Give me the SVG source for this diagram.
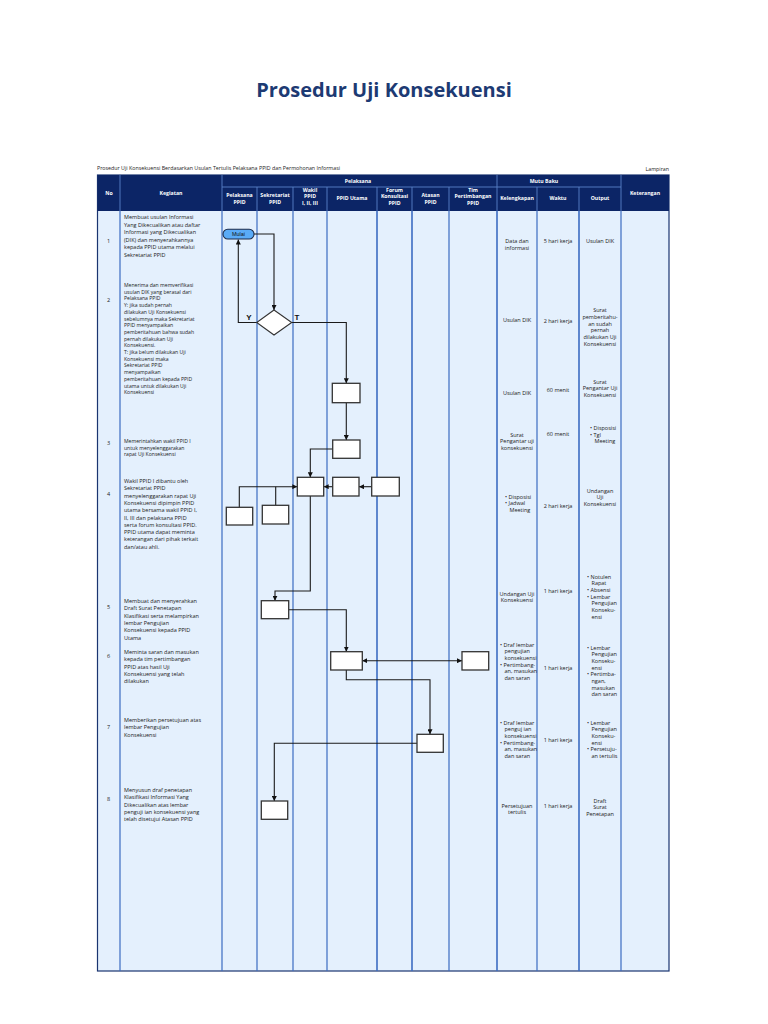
<svg xmlns="http://www.w3.org/2000/svg" width="768" height="1024" viewBox="0 0 768 1024">
<style>
.t{font-family:"Open Sans","Noto Sans",sans-serif;font-size:5.5px;fill:#222}
.c{text-anchor:middle}
.h{font-family:"Open Sans","Noto Sans",sans-serif;font-size:5.2px;fill:#fff;text-anchor:middle;font-weight:bold}
.hl{stroke:#5a82c8;stroke-width:0.9}
.bl{stroke:#3b6cc2;stroke-width:1.2}
.box{fill:#fff;stroke:#333;stroke-width:1.3}
.cn{fill:none;stroke:#1a1a1a;stroke-width:1.1}
.lbl{font-family:"Liberation Sans",Arial,sans-serif;font-size:8px;font-weight:bold;fill:#111}
</style>
<defs>
<marker id="ah" viewBox="0 0 10 10" refX="10" refY="5" markerWidth="5" markerHeight="5" markerUnits="userSpaceOnUse" orient="auto-start-reverse">
<path d="M0,0 L10,5 L0,10 z" fill="#111"/>
</marker>
</defs>
<rect width="768" height="1024" fill="#fff"/>
<text x="384" y="97" text-anchor="middle" font-family="'Open Sans','Noto Sans',sans-serif" font-size="20" font-weight="bold" fill="#1d3a73">Prosedur Uji Konsekuensi</text>
<text class="t" x="97" y="170" style="font-size:5.3px">Prosedur Uji Konsekuensi Berdasarkan Usulan Tertulis Pelaksana PPID dan Permohonan Informasi</text>
<text class="t" x="669" y="171" text-anchor="end" style="font-size:5.3px">Lampiran</text>

<g id="table">
<rect x="97.5" y="175" width="571.5" height="796" fill="#e4f0fd" stroke="#1a3470" stroke-width="1.2"/>
<rect x="97.5" y="175" width="571.5" height="36" fill="#0c2566"/>
<line class="hl" x1="222" y1="187" x2="621" y2="187"/>
<g class="hl">
<line x1="120" y1="175" x2="120" y2="211"/><line x1="222" y1="175" x2="222" y2="211"/>
<line x1="497" y1="175" x2="497" y2="211"/><line x1="621" y1="175" x2="621" y2="211"/>
<line x1="257" y1="187" x2="257" y2="211"/><line x1="293" y1="187" x2="293" y2="211"/>
<line x1="327" y1="187" x2="327" y2="211"/><line x1="377" y1="187" x2="377" y2="211"/>
<line x1="412" y1="187" x2="412" y2="211"/><line x1="449" y1="187" x2="449" y2="211"/>
<line x1="537" y1="187" x2="537" y2="211"/><line x1="579" y1="187" x2="579" y2="211"/>
</g>
<g class="bl">
<line x1="120" y1="211" x2="120" y2="971"/><line x1="222" y1="211" x2="222" y2="971"/>
<line x1="257" y1="211" x2="257" y2="971"/><line x1="293" y1="211" x2="293" y2="971"/>
<line x1="327" y1="211" x2="327" y2="971"/><line x1="377" y1="211" x2="377" y2="971" style="stroke-width:1.6"/>
<line x1="412" y1="211" x2="412" y2="971" style="stroke-width:1.6"/><line x1="449" y1="211" x2="449" y2="971"/>
<line x1="497" y1="211" x2="497" y2="971" style="stroke-width:1.6"/><line x1="537" y1="211" x2="537" y2="971"/>
<line x1="579" y1="211" x2="579" y2="971" style="stroke-width:1.6"/><line x1="621" y1="211" x2="621" y2="971"/>
</g>
<text class="h" x="109" y="195">No</text>
<text class="h" x="171" y="195">Kegiatan</text>
<text class="h" x="358" y="183">Pelaksana</text>
<text class="h" x="544" y="183">Mutu Baku</text>
<text class="h" x="645" y="195">Keterangan</text>
<text class="h" x="239.5" y="197">Pelaksana</text><text class="h" x="239.5" y="204">PPID</text>
<text class="h" x="275" y="197">Sekretariat</text><text class="h" x="275" y="204">PPID</text>
<text class="h" x="310" y="192">Wakil</text><text class="h" x="310" y="198">PPID</text><text class="h" x="310" y="205">I, II, III</text>
<text class="h" x="352" y="200">PPID Utama</text>
<text class="h" x="394.5" y="192">Forum</text><text class="h" x="394.5" y="198">Konsultasi</text><text class="h" x="394.5" y="205">PPID</text>
<text class="h" x="430.5" y="197">Atasan</text><text class="h" x="430.5" y="204">PPID</text>
<text class="h" x="473" y="192">Tim</text><text class="h" x="473" y="198">Pertimbangan</text><text class="h" x="473" y="205">PPID</text>
<text class="h" x="517" y="200">Kelengkapan</text>
<text class="h" x="558" y="200">Waktu</text>
<text class="h" x="600" y="200">Output</text>
</g>

<g id="numbers" class="t c">
<text x="108.5" y="243" class="t c">1</text>
<text x="108.5" y="302" class="t c">2</text>
<text x="108.5" y="445" class="t c">3</text>
<text x="108.5" y="496" class="t c">4</text>
<text x="108.5" y="609" class="t c">5</text>
<text x="108.5" y="658" class="t c">6</text>
<text x="108.5" y="729" class="t c">7</text>
<text x="108.5" y="801" class="t c">8</text>
</g>

<g id="kegiatan">
<text class="t" x="124" y="219">Membuat usulan Informasi</text>
<text class="t" x="124" y="226.5">Yang Dikecualikan atau daftar</text>
<text class="t" x="124" y="234">Informasi yang Dikecualikan</text>
<text class="t" x="124" y="241.5">(DIK) dan menyerahkannya</text>
<text class="t" x="124" y="249">kepada PPID utama melalui</text>
<text class="t" x="124" y="256.5">Sekretariat PPID</text>

<g style="font-size:5.1px">
<text class="t" x="124" y="287" style="font-size:5.1px">Menerima dan memverifikasi</text>
<text class="t" x="124" y="293.7" style="font-size:5.1px">usulan DIK yang berasal dari</text>
<text class="t" x="124" y="300.4" style="font-size:5.1px">Pelaksana PPID</text>
<text class="t" x="124" y="307.1" style="font-size:5.1px">Y: jika sudah pernah</text>
<text class="t" x="124" y="313.8" style="font-size:5.1px">dilakukan Uji Konsekuensi</text>
<text class="t" x="124" y="320.5" style="font-size:5.1px">sebelumnya maka Sekretariat</text>
<text class="t" x="124" y="327.2" style="font-size:5.1px">PPID menyampaikan</text>
<text class="t" x="124" y="333.9" style="font-size:5.1px">pemberitahuan bahwa sudah</text>
<text class="t" x="124" y="340.6" style="font-size:5.1px">pernah dilakukan Uji</text>
<text class="t" x="124" y="347.3" style="font-size:5.1px">Konsekuensi.</text>
<text class="t" x="124" y="354" style="font-size:5.1px">T: jika belum dilakukan Uji</text>
<text class="t" x="124" y="360.7" style="font-size:5.1px">Konsekuensi maka</text>
<text class="t" x="124" y="367.4" style="font-size:5.1px">Sekretariat PPID</text>
<text class="t" x="124" y="374.1" style="font-size:5.1px">menyampaikan</text>
<text class="t" x="124" y="380.8" style="font-size:5.1px">pemberitahuan kepada PPID</text>
<text class="t" x="124" y="387.5" style="font-size:5.1px">utama untuk dilakukan Uji</text>
<text class="t" x="124" y="394.2" style="font-size:5.1px">Konsekuensi</text>
</g>

<text class="t" x="124" y="443" style="font-size:5.1px">Memerintahkan wakil PPID I</text>
<text class="t" x="124" y="449.5" style="font-size:5.1px">untuk menyelenggarakan</text>
<text class="t" x="124" y="456" style="font-size:5.1px">rapat Uji Konsekuensi</text>

<text class="t" x="124" y="483">Wakil PPID I dibantu oleh</text>
<text class="t" x="124" y="490.3">Sekretariat PPID</text>
<text class="t" x="124" y="497.6">menyelenggarakan rapat Uji</text>
<text class="t" x="124" y="504.9">Konsekuensi dipimpin PPID</text>
<text class="t" x="124" y="512.2">utama bersama wakil PPID I,</text>
<text class="t" x="124" y="519.5">II, III dan pelaksana PPID</text>
<text class="t" x="124" y="526.8">serta forum konsultasi PPID.</text>
<text class="t" x="124" y="534.1">PPID utama dapat meminta</text>
<text class="t" x="124" y="541.4">keterangan dari pihak terkait</text>
<text class="t" x="124" y="548.7">dan/atau ahli.</text>

<text class="t" x="124" y="603">Membuat dan menyerahkan</text>
<text class="t" x="124" y="610.3">Draft Surat Penetapan</text>
<text class="t" x="124" y="617.6">Klasifikasi serta melampirkan</text>
<text class="t" x="124" y="624.9">lembar Pengujian</text>
<text class="t" x="124" y="632.2">Konsekuensi kepada PPID</text>
<text class="t" x="124" y="639.5">Utama</text>

<text class="t" x="124" y="654">Meminta saran dan masukan</text>
<text class="t" x="124" y="661.3">kepada tim pertimbangan</text>
<text class="t" x="124" y="668.6">PPID atas hasil Uji</text>
<text class="t" x="124" y="675.9">Konsekuensi yang telah</text>
<text class="t" x="124" y="683.2">dilakukan</text>

<text class="t" x="124" y="722">Memberikan persetujuan atas</text>
<text class="t" x="124" y="729.3">lembar Pengujian</text>
<text class="t" x="124" y="736.6">Konsekuensi</text>

<text class="t" x="124" y="792">Menyusun draf penetapan</text>
<text class="t" x="124" y="799.3">Klasifikasi Informasi Yang</text>
<text class="t" x="124" y="806.6">Dikecualikan atas lembar</text>
<text class="t" x="124" y="813.9">penguji ian konsekuensi yang</text>
<text class="t" x="124" y="821.2">telah disetujui Atasan PPID</text>
</g>

<g id="mutu-baku" style="font-size:5.2px">
<!-- row 1 -->
<text class="t c" x="517" y="243">Data dan</text><text class="t c" x="517" y="250">informasi</text>
<text class="t c" x="558" y="242.5">5 hari kerja</text>
<text class="t c" x="600" y="242.5">Usulan DIK</text>
<!-- row 2 -->
<text class="t c" x="517" y="321.5">Usulan DIK</text>
<text class="t c" x="558" y="322.5">2 hari kerja</text>
<text class="t c" x="600" y="312">Surat</text><text class="t c" x="600" y="318.8">pemberitahu-</text><text class="t c" x="600" y="325.6">an sudah</text><text class="t c" x="600" y="332.4">pernah</text><text class="t c" x="600" y="339.2">dilakukan Uji</text><text class="t c" x="600" y="346">Konsekuensi</text>
<!-- row 2b -->
<text class="t c" x="517" y="394.5">Usulan DIK</text>
<text class="t c" x="558" y="391.5">60 menit</text>
<text class="t c" x="600" y="383.5">Surat</text><text class="t c" x="600" y="390.3">Pengantar Uji</text><text class="t c" x="600" y="397">Konsekuensi</text>
<!-- row 3 -->
<text class="t c" x="517" y="436.5">Surat</text><text class="t c" x="517" y="443.3">Pengantar uji</text><text class="t c" x="517" y="450">konsekuensi</text>
<text class="t c" x="558" y="435.5">60 menit</text>
<text class="t" x="590" y="430">• Disposisi</text><text class="t" x="590" y="436.7">• Tgl</text><text class="t" x="594.5" y="443.4">Meeting</text>
<!-- row 4 -->
<text class="t" x="505" y="498.5">• Disposisi</text><text class="t" x="505" y="505.2">• Jadwal</text><text class="t" x="509.5" y="512">Meeting</text>
<text class="t c" x="558" y="507.5">2 hari kerja</text>
<text class="t c" x="600" y="492.5">Undangan</text><text class="t c" x="600" y="499.3">Uji</text><text class="t c" x="600" y="506">Konsekuensi</text>
<!-- row 5 -->
<text class="t c" x="517" y="595.5">Undangan Uji</text><text class="t c" x="517" y="602.3">Konsekuensi</text>
<text class="t c" x="558" y="592.5">1 hari kerja</text>
<text class="t" x="587" y="578.5">• Notulen</text><text class="t" x="591.5" y="585.2">Rapat</text><text class="t" x="587" y="591.9">• Absensi</text><text class="t" x="587" y="598.6">• Lembar</text><text class="t" x="591.5" y="605.3">Pengujian</text><text class="t" x="591.5" y="612">Konseku-</text><text class="t" x="591.5" y="618.7">ensi</text>
<!-- row 6 -->
<text class="t" x="500" y="646.5">• Draf lembar</text><text class="t" x="504.5" y="653.2">pengujian</text><text class="t" x="504.5" y="659.9">konsekuensi</text><text class="t" x="500" y="666.6">• Pertimbang-</text><text class="t" x="504.5" y="673.3">an, masukan</text><text class="t" x="504.5" y="680">dan saran</text>
<text class="t c" x="558" y="669.5">1 hari kerja</text>
<text class="t" x="587" y="649.5">• Lembar</text><text class="t" x="591.5" y="656.2">Pengujian</text><text class="t" x="591.5" y="662.9">Konseku-</text><text class="t" x="591.5" y="669.6">ensi</text><text class="t" x="587" y="676.3">• Pertimba-</text><text class="t" x="591.5" y="683">ngan,</text><text class="t" x="591.5" y="689.7">masukan</text><text class="t" x="591.5" y="696.4">dan saran</text>
<!-- row 7 -->
<text class="t" x="500" y="724.5">• Draf lembar</text><text class="t" x="504.5" y="731.2">penguj ian</text><text class="t" x="504.5" y="737.9">konsekuensi</text><text class="t" x="500" y="744.6">• Pertimbang-</text><text class="t" x="504.5" y="751.3">an, masukan</text><text class="t" x="504.5" y="758">dan saran</text>
<text class="t c" x="558" y="741.5">1 hari kerja</text>
<text class="t" x="587" y="724.5">• Lembar</text><text class="t" x="591.5" y="731.2">Pengujian</text><text class="t" x="591.5" y="737.9">Konseku-</text><text class="t" x="591.5" y="744.6">ensi</text><text class="t" x="587" y="751.3">• Persetuju-</text><text class="t" x="591.5" y="758">an tertulis</text>
<!-- row 8 -->
<text class="t c" x="517" y="807.5">Persetujuan</text><text class="t c" x="517" y="814.3">tertulis</text>
<text class="t c" x="558" y="807.5">1 hari kerja</text>
<text class="t c" x="600" y="802.5">Draft</text><text class="t c" x="600" y="809.3">Surat</text><text class="t c" x="600" y="816">Penetapan</text>
</g>

<g id="connectors">
<path class="cn" d="M254,234 H274 V310" marker-end="url(#ah)"/>
<path class="cn" d="M256.7,322.5 H238.3 V239.5" marker-end="url(#ah)"/>
<path class="cn" d="M291.7,322.5 H346.3 V383.3" marker-end="url(#ah)"/>
<path class="cn" d="M346.3,402.7 V440" marker-end="url(#ah)"/>
<path class="cn" d="M332.7,449 H310.3 V477.3" marker-end="url(#ah)"/>
<path class="cn" d="M332.7,486.7 H323.7" marker-end="url(#ah)"/>
<path class="cn" d="M371.7,486.7 H359" marker-end="url(#ah)"/>
<path class="cn" d="M239.3,507.3 V486.7 H297.3" marker-end="url(#ah)"/>
<path class="cn" d="M275.7,505.3 V486.7"/>
<path class="cn" d="M310.3,496 V591 H275 V600.7" marker-end="url(#ah)"/>
<path class="cn" d="M288.7,609.7 H346.3 V651.7" marker-end="url(#ah)"/>
<path class="cn" d="M362.3,660.7 H462" marker-start="url(#ah)" marker-end="url(#ah)"/>
<path class="cn" d="M346.3,670 V679.7 H430 V734.3" marker-end="url(#ah)"/>
<path class="cn" d="M417,743.3 H274.3 V801" marker-end="url(#ah)"/>
</g>

<g id="mulai">
<rect x="223" y="229.3" width="31" height="9.7" rx="4.8" fill="#5aabf7" stroke="#1b2a4a" stroke-width="1.1"/>
<text x="238.5" y="236.3" text-anchor="middle" font-family="'Liberation Sans',Arial,sans-serif" font-size="5.5" fill="#111">Mulai</text>
</g>
<g id="decision">
<polygon points="274,310 291.7,322.5 274,335 256.7,322.5" fill="#fff" stroke="#333" stroke-width="1.1"/>
<text class="lbl" x="249" y="320" text-anchor="middle">Y</text>
<text class="lbl" x="297" y="320" text-anchor="middle">T</text>
</g>
<g id="box-a"><rect class="box" x="332.3" y="383.3" width="27.7" height="19.4"/></g>
<g id="box-b"><rect class="box" x="332.7" y="440" width="27.3" height="18.3"/></g>
<g id="box-c"><rect class="box" x="297.3" y="477.3" width="26.4" height="18.7"/></g>
<g id="box-d"><rect class="box" x="332.7" y="477.3" width="26.3" height="18.7"/></g>
<g id="box-e"><rect class="box" x="371.7" y="477.3" width="27.6" height="18.7"/></g>
<g id="box-f"><rect class="box" x="226.3" y="507.3" width="26.4" height="17.7"/></g>
<g id="box-g"><rect class="box" x="262.3" y="505.3" width="26.4" height="18.7"/></g>
<g id="box-h"><rect class="box" x="261.3" y="600.7" width="27.4" height="18"/></g>
<g id="box-i"><rect class="box" x="330.7" y="651.7" width="31.6" height="18.3"/></g>
<g id="box-j"><rect class="box" x="462" y="651.7" width="26.7" height="18.3"/></g>
<g id="box-k"><rect class="box" x="417" y="734.3" width="26.3" height="18"/></g>
<g id="box-l"><rect class="box" x="261.3" y="801" width="26.4" height="18.3"/></g>
</svg>
